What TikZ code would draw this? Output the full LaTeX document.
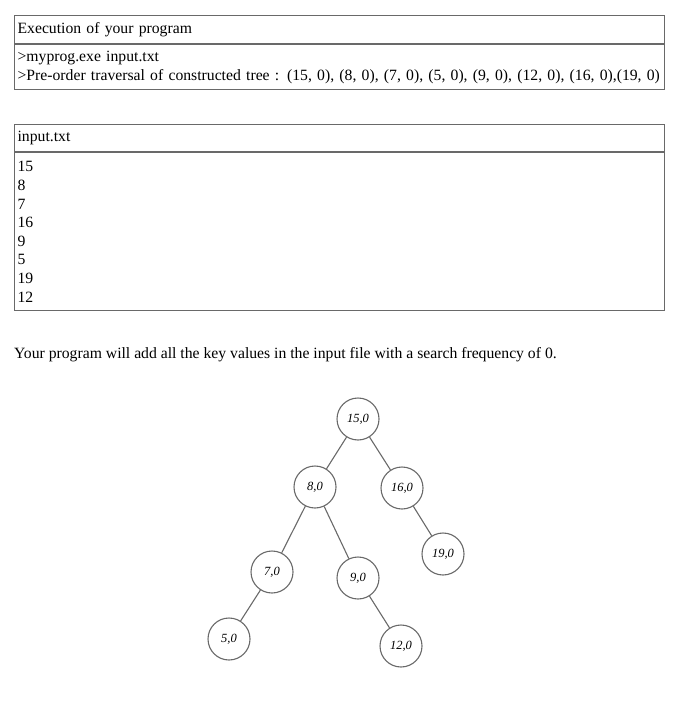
\documentclass[tikz,border=0pt]{standalone}
\usepackage{fontspec}
\setmainfont{Liberation Serif}
\usetikzlibrary{positioning}
\definecolor{framegray}{RGB}{105,105,105}

\begin{document}
\begin{tikzpicture}[x=1pt, y=-1pt, every node/.style={font=\fontsize{15.7}{18.6}\selectfont}]
    \useasboundingbox (0,0) rectangle (681,711);
    % execution box
    \node[draw=framegray, line width=1.2pt, anchor=north west, minimum height=28pt, text width=644pt, inner xsep=3pt, inner ysep=0pt, align=left] (exechead) at (14,15) {Execution of your program};
    \node[draw=framegray, line width=1.2pt, minimum height=45pt, text width=644pt, inner xsep=3pt, inner ysep=2pt, align=left, below=0pt of exechead] (execbody) {>myprog.exe input.txt\\>Pre-order traversal of constructed tree : (15, 0), (8, 0), (7, 0), (5, 0), (9, 0), (12, 0), (16, 0),(19, 0)};
    % input file box
    \node[draw=framegray, line width=1.2pt, anchor=north west, minimum height=27pt, text width=644pt, inner xsep=3pt, inner ysep=0pt, align=left] (inhead) at (14,124) {input.txt};
    \node[draw=framegray, line width=1.2pt, minimum height=158pt, text width=644pt, inner xsep=3pt, inner ysep=2pt, align=left, below=0pt of inhead] (inbody) {15\\8\\7\\16\\9\\5\\19\\12};
    \node[anchor=west, inner sep=0pt] (note) at (14,355) {Your program will add all the key values in the input file with a search frequency of 0.};
    % tree
    \tikzset{keynode/.style={draw=framegray, circle, line width=1.1pt, minimum size=42pt, inner sep=0pt, font=\fontsize{12.5}{14}\selectfont\itshape}}
    \node[keynode] (k15) at (358,419) {15,0};
    \node[keynode] (k8) at (315,487) {8,0};
    \node[keynode] (k16) at (402,488) {16,0};
    \node[keynode] (k7) at (272,572) {7,0};
    \node[keynode] (k9) at (358,578) {9,0};
    \node[keynode] (k19) at (443,554) {19,0};
    \node[keynode] (k5) at (229,639) {5,0};
    \node[keynode] (k12) at (401,646) {12,0};
    \draw[framegray, line width=1.1pt] (k15) -- (k8);
    \draw[framegray, line width=1.1pt] (k15) -- (k16);
    \draw[framegray, line width=1.1pt] (k8) -- (k7);
    \draw[framegray, line width=1.1pt] (k8) -- (k9);
    \draw[framegray, line width=1.1pt] (k16) -- (k19);
    \draw[framegray, line width=1.1pt] (k7) -- (k5);
    \draw[framegray, line width=1.1pt] (k9) -- (k12);
\end{tikzpicture}
\end{document}
